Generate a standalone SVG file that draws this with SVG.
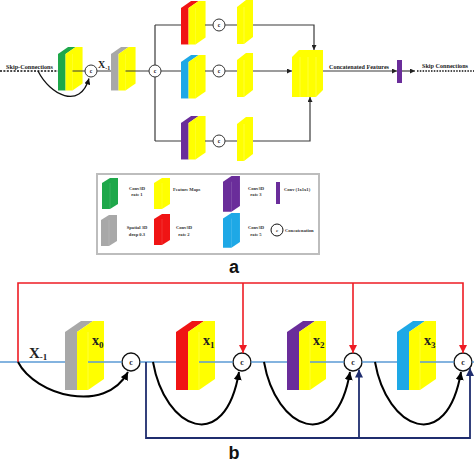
<svg xmlns="http://www.w3.org/2000/svg" width="474" height="463" viewBox="0 0 474 463">
<style>
.la{fill:none;stroke:#3a3a3a;stroke-width:1.2}
.ca{fill:#fff;stroke:#333;stroke-width:1}
.cb{fill:#fff;stroke:#111;stroke-width:1.4}
.ct{font-family:"Liberation Serif",serif;font-weight:bold;text-anchor:middle;fill:#222}
.t{font-family:"Liberation Serif",serif;font-weight:bold;fill:#222}
.lt{font-family:"Liberation Serif",serif;font-weight:bold;fill:#333;font-size:4.6px}
.blue{fill:none;stroke:#5b9bd5;stroke-width:1.5}
.red{fill:none;stroke:#ee1c24;stroke-width:1.6}
.navy{fill:none;stroke:#1f2d6e;stroke-width:1.8}
.blk{fill:none;stroke:#000;stroke-width:2}
.edge{fill:none;stroke:#ffffa8;stroke-opacity:0.7;stroke-width:0.5}
.ledge{fill:none;stroke:#ffffff;stroke-opacity:0.25;stroke-width:0.5}
.big{font-family:"Liberation Sans",Arial,sans-serif;font-weight:bold;font-size:18px;text-anchor:middle;fill:#111}
</style>
<defs>
<marker id="mA" viewBox="0 0 10 10" refX="10" refY="5" markerWidth="5" markerHeight="5" markerUnits="userSpaceOnUse" orient="auto"><path d="M0,0L10,5L0,10z" fill="#222"/></marker>
<marker id="mA2" viewBox="0 0 10 10" refX="10" refY="5" markerWidth="6" markerHeight="6" markerUnits="userSpaceOnUse" orient="auto"><path d="M0,0L10,5L0,10z" fill="#111"/></marker>
<marker id="mK" viewBox="0 0 10 10" refX="10" refY="5" markerWidth="8" markerHeight="8" markerUnits="userSpaceOnUse" orient="auto"><path d="M0,0L10,5L0,10z" fill="#000"/></marker>
<marker id="mR" viewBox="0 0 10 10" refX="10" refY="5" markerWidth="8" markerHeight="8" markerUnits="userSpaceOnUse" orient="auto"><path d="M0,0L10,5L0,10z" fill="#ee1c24"/></marker>
<marker id="mN" viewBox="0 0 10 10" refX="10" refY="5" markerWidth="8" markerHeight="8" markerUnits="userSpaceOnUse" orient="auto"><path d="M0,0L10,5L0,10z" fill="#1f2d6e"/></marker>
<g id="slab"><polygon points="0,11 12,11 12,69 0,69"/><polygon points="0,11 16,0 28,0 12,11"/></g>
<g id="body"><polygon fill="#ffff00" points="12,11 28,0 39,0 39,58 23,69 12,69"/><path class="edge" d="M23,11V69"/></g>
<g id="fm"><polygon fill="#ffff00" points="0,7 9,0 16,0 16,37 7,44 0,44"/><path class="edge" d="M7,7V44"/></g>
<g id="lc"><polygon points="0,5 8,0 16,0 16,26 8,31 0,31"/><path class="ledge" d="M8,5V31"/></g>
</defs>

<!-- ===== Part a nodes ===== -->
<g id="a-green" transform="translate(58,47) scale(0.63)"><use href="#slab" fill="#1ea84a"/><use href="#body"/></g>
<g id="a-concat0"><circle class="ca" cx="91" cy="71" r="6"/><text class="ct" x="91" y="73" font-size="5.5">c</text></g>
<g id="a-gray" transform="translate(111,47) scale(0.63)"><use href="#slab" fill="#a8a8a8"/><use href="#body"/></g>
<g id="a-concat1"><circle class="ca" cx="155" cy="71" r="6"/><text class="ct" x="155" y="73" font-size="5.5">c</text></g>
<g id="a-red" transform="translate(181,1) scale(0.63)"><use href="#slab" fill="#f01414"/><use href="#body"/></g>
<g id="a-cyan" transform="translate(181,55) scale(0.63)"><use href="#slab" fill="#1ea8e6"/><use href="#body"/></g>
<g id="a-purple" transform="translate(181,116) scale(0.63)"><use href="#slab" fill="#6a2d9a"/><use href="#body"/></g>
<g id="a-c-top"><circle class="ca" cx="219" cy="25" r="6"/><text class="ct" x="219" y="27" font-size="5.5">c</text></g>
<g id="a-c-mid"><circle class="ca" cx="219" cy="71" r="6"/><text class="ct" x="219" y="73" font-size="5.5">c</text></g>
<g id="a-c-bot"><circle class="ca" cx="219" cy="141" r="6"/><text class="ct" x="219" y="143" font-size="5.5">c</text></g>
<g id="a-fm-top" transform="translate(237,0)"><use href="#fm"/></g>
<g id="a-fm-mid" transform="translate(237,53)"><use href="#fm"/></g>
<g id="a-fm-bot" transform="translate(237,117)"><use href="#fm"/></g>
<g id="a-concat-features"><polygon fill="#ffff00" points="292,57 299,50 323,50 323,90 316,97 292,97"/><path class="edge" d="M316,57V97M300,57V97M308,57V97"/></g>
<g id="a-conv1x1"><rect x="397" y="60" width="5" height="23" fill="#6a2d9a"/></g>

<!-- Part a labels -->
<text class="t" x="6" y="68.5" font-size="5.6" textLength="47" lengthAdjust="spacingAndGlyphs">Skip-Connections</text>
<text class="t" x="98" y="68" font-size="10">X<tspan font-size="6" dy="2">-1</tspan></text>
<text class="t" x="329" y="68.5" font-size="5.4" textLength="60" lengthAdjust="spacingAndGlyphs">Concatenated Features</text>
<text class="t" x="422" y="68" font-size="5.4" textLength="46" lengthAdjust="spacingAndGlyphs">Skip Connections</text>

<!-- ===== Part a connectors ===== -->
<g id="a-connectors">
<path d="M0,71H58" fill="none" stroke="#111" stroke-width="1.4" stroke-dasharray="2,1.4"/>
<path class="la" d="M72.5,71H85M97,71H111M125.5,71H149"/>
<path class="la" d="M155,25V65M155,77V141M155,25H181M161,71H181M155,141H181"/>
<path class="la" d="M205,25H213M205,71H213M205,141H213M225,25H237M225,71H237M225,141H237"/>
<path class="la" d="M253,25H314V50" marker-end="url(#mA)"/>
<path class="la" d="M253,71H292" marker-end="url(#mA)"/>
<path class="la" d="M253,141H310V97" marker-end="url(#mA)"/>
<path class="la" d="M323,71H397" marker-end="url(#mA)"/>
<path class="la" d="M402,71H415" marker-end="url(#mA)"/>
<path d="M417,71H474" fill="none" stroke="#111" stroke-width="1.5" stroke-dasharray="1.5,1.3"/>
<path d="M38,71C50,95 80,110 89,78.5" fill="none" stroke="#111" stroke-width="1.3" marker-end="url(#mA2)"/>
</g>

<!-- ===== Legend ===== -->
<g id="legend">
<rect x="97" y="174" width="222" height="80" fill="#fff" stroke="#bdbdbd" stroke-width="2"/>
<g id="lg-green" transform="translate(102,178)"><use href="#lc" fill="#1ea84a"/></g>
<text class="lt" x="137" y="190" text-anchor="middle">Conv3D</text><text class="lt" x="137" y="196" text-anchor="middle">rate 1</text>
<g id="lg-yellow" transform="translate(154,178)"><use href="#lc" fill="#ffff00"/></g>
<text class="lt" x="173" y="191">Feature Maps</text>
<g id="lg-purple" transform="translate(223,176) scale(1.06,1.15)"><use href="#lc" fill="#6a2d9a"/></g>
<text class="lt" x="256" y="190" text-anchor="middle">Conv3D</text><text class="lt" x="256" y="196" text-anchor="middle">rate 3</text>
<rect x="276" y="182" width="4" height="22" fill="#6a2d9a"/>
<text class="lt" x="284" y="191">Conv (1x1x1)</text>
<g id="lg-gray" transform="translate(101,215)"><use href="#lc" fill="#a8a8a8"/></g>
<text class="lt" x="137" y="229" text-anchor="middle">Spatial 3D</text><text class="lt" x="137" y="236" text-anchor="middle">drop 0.3</text>
<g id="lg-red" transform="translate(154,214)"><use href="#lc" fill="#f01414"/></g>
<text class="lt" x="184" y="229" text-anchor="middle">Conv3D</text><text class="lt" x="184" y="236" text-anchor="middle">rate 2</text>
<g id="lg-cyan" transform="translate(223,213) scale(1.06,1.12)"><use href="#lc" fill="#1ea8e6"/></g>
<text class="lt" x="256" y="229" text-anchor="middle">Conv3D</text><text class="lt" x="256" y="236" text-anchor="middle">rate 5</text>
<circle cx="277" cy="230" r="6" fill="#fff" stroke="#111" stroke-width="1"/><text class="ct" x="277" y="232" font-size="5">c</text>
<text class="lt" x="285" y="231.5">Concatenation</text>
</g>

<text class="big" x="234" y="273">a</text>

<!-- ===== Part b nodes ===== -->
<g id="b-x0" transform="translate(65,321)"><use href="#slab" fill="#a8a8a8"/><use href="#body"/><text class="t" x="27" y="24" font-size="14">x<tspan font-size="9" dy="3">0</tspan></text></g>
<g id="b-x1" transform="translate(176,321)"><use href="#slab" fill="#f01414"/><use href="#body"/><text class="t" x="27" y="24" font-size="14">x<tspan font-size="9" dy="3">1</tspan></text></g>
<g id="b-x2" transform="translate(287,321)"><use href="#slab" fill="#6a2d9a"/><use href="#body"/><text class="t" x="26" y="24" font-size="14">x<tspan font-size="9" dy="3">2</tspan></text></g>
<g id="b-x3" transform="translate(397,321)"><use href="#slab" fill="#1ea8e6"/><use href="#body"/><text class="t" x="27" y="24" font-size="14">x<tspan font-size="9" dy="3">3</tspan></text></g>
<g id="b-c0"><circle class="cb" cx="131" cy="362" r="9"/><text class="ct" x="131" y="365" font-size="8">c</text></g>
<g id="b-c1"><circle class="cb" cx="242" cy="362" r="9"/><text class="ct" x="242" y="365" font-size="8">c</text></g>
<g id="b-c2"><circle class="cb" cx="353" cy="362" r="9"/><text class="ct" x="353" y="365" font-size="8">c</text></g>
<g id="b-c3"><circle class="cb" cx="463" cy="362" r="9"/><text class="ct" x="463" y="365" font-size="8">c</text></g>
<text class="t" x="29" y="358" font-size="15">X<tspan font-size="9" dy="2">-1</tspan></text>

<!-- ===== Part b connectors ===== -->
<g id="b-connectors">
<path class="blue" d="M0,362H65M88,362H122M140,362H176M199,362H233M251,362H287M310,362H344M362,362H397M420,362H454M472,362H474"/>
<path class="red" d="M18,362V283H463V353" marker-end="url(#mR)"/>
<path class="red" d="M243,283V353" marker-end="url(#mR)"/>
<path class="red" d="M353,283V353" marker-end="url(#mR)"/>
<path class="navy" d="M146,362V438H470V368" marker-end="url(#mN)"/>
<path class="navy" d="M359,438V369.5" marker-end="url(#mN)"/>
<path class="blk" d="M18,362C35,395 105,415 128,372" marker-end="url(#mK)"/>
<path class="blk" d="M153,362C165,430 225,455 239,372" marker-end="url(#mK)"/>
<path class="blk" d="M264,362C276,430 336,455 350,372" marker-end="url(#mK)"/>
<path class="blk" d="M375,362C387,430 447,455 461,372" marker-end="url(#mK)"/>
</g>

<text class="big" x="234" y="459">b</text>
</svg>
